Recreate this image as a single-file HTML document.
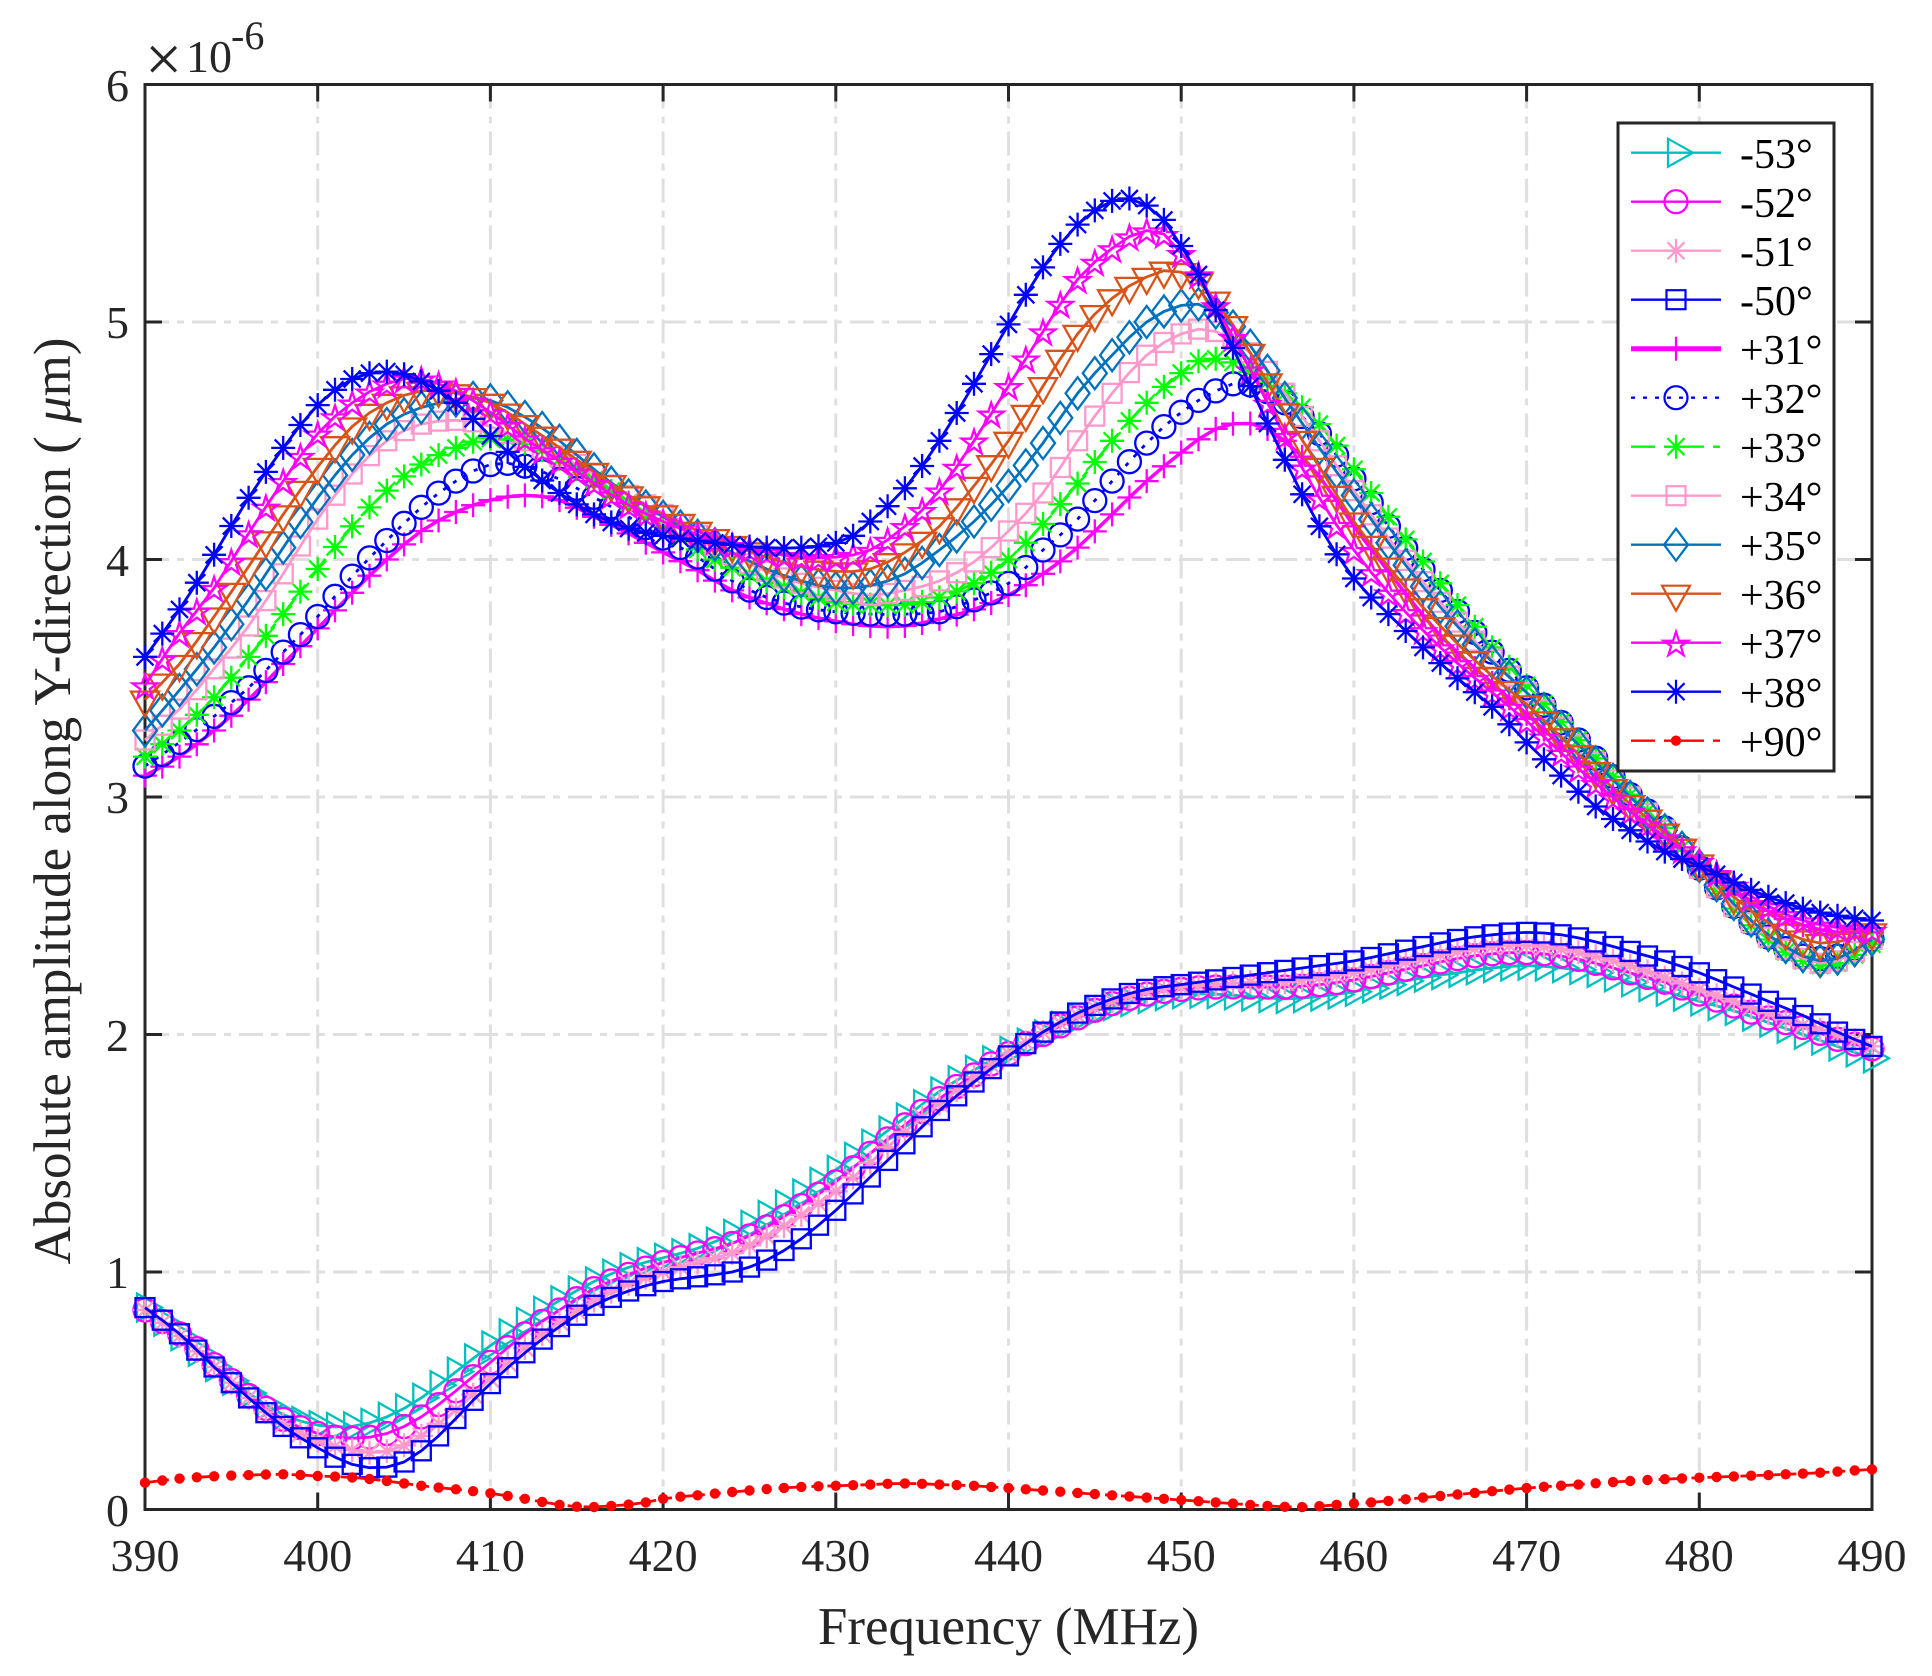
<!DOCTYPE html>
<html>
<head>
<meta charset="utf-8">
<style>
html,body{margin:0;padding:0;background:#fff;}
svg{display:block;}
text{font-family:"Liberation Serif","Times New Roman",serif;}
</style>
</head>
<body>
<svg id="chart" xmlns="http://www.w3.org/2000/svg" width="1932" height="1676" viewBox="0 0 1932 1676">
<rect x="0" y="0" width="1932" height="1676" fill="#ffffff"/>
<g id="grid" stroke="#dfdfdf" stroke-width="3" stroke-dasharray="24 8 7 8" fill="none"></g>
<g id="axes" stroke="#262626" stroke-width="3" fill="none"></g>
<g id="data"></g>

<!-- Y tick labels -->
<g font-size="46" fill="#262626" text-anchor="end">
<text x="129" y="1526">0</text>
<text x="129" y="1288">1</text>
<text x="129" y="1051">2</text>
<text x="129" y="813">3</text>
<text x="129" y="576">4</text>
<text x="129" y="338">5</text>
<text x="129" y="101">6</text>
</g>
<!-- X tick labels -->
<g font-size="46" fill="#262626" text-anchor="middle">
<text x="145" y="1571">390</text>
<text x="317.7" y="1571">400</text>
<text x="490.4" y="1571">410</text>
<text x="663.1" y="1571">420</text>
<text x="835.8" y="1571">430</text>
<text x="1008.5" y="1571">440</text>
<text x="1181.2" y="1571">450</text>
<text x="1353.9" y="1571">460</text>
<text x="1526.6" y="1571">470</text>
<text x="1699.3" y="1571">480</text>
<text x="1872" y="1571">490</text>
</g>
<!-- exponent -->
<g fill="#262626">
<text x="145" y="81" font-size="66">×</text>
<text x="186" y="72" font-size="46">10</text>
<text x="231" y="49" font-size="40">-6</text>
</g>
<!-- axis labels -->
<text x="1008.5" y="1644" font-size="53" fill="#262626" text-anchor="middle">Frequency (MHz)</text>
<text transform="translate(70,801) rotate(-90)" font-size="53" fill="#262626" text-anchor="middle">Absolute amplitude along Y-direction ( <tspan font-style="italic">μ</tspan>m)</text>

<!-- legend -->
<rect x="1618" y="123" width="216" height="648" fill="#ffffff" stroke="#262626" stroke-width="3"/>
<g id="legsym"></g>
<g font-size="42" fill="#000000">
<text x="1740" y="168">-53°</text>
<text x="1740" y="217">-52°</text>
<text x="1740" y="266">-51°</text>
<text x="1740" y="315">-50°</text>
<text x="1740" y="364">+31°</text>
<text x="1740" y="413">+32°</text>
<text x="1740" y="462">+33°</text>
<text x="1740" y="511">+34°</text>
<text x="1740" y="560">+35°</text>
<text x="1740" y="609">+36°</text>
<text x="1740" y="658">+37°</text>
<text x="1740" y="707">+38°</text>
<text x="1740" y="756">+90°</text>
</g>
</svg>
<script>
(function(){
const L=145,R=1872,T=84.5,B=1509.5;
const X=f=>L+(f-390)*(R-L)/100;
const Y=v=>B-v*(B-T)/6;

let g='';
for(let f=400;f<490;f+=10){g+=`<line x1="${X(f)}" y1="${T}" x2="${X(f)}" y2="${B}"/>`;}
for(let k=1;k<6;k++){g+=`<line x1="${L}" y1="${Y(k)}" x2="${R}" y2="${Y(k)}"/>`;}
document.getElementById('grid').innerHTML=g;
let a=`<rect x="${L}" y="${T}" width="${R-L}" height="${B-T}"/>`;
for(let f=390;f<=490;f+=10){a+=`<line x1="${X(f)}" y1="${B}" x2="${X(f)}" y2="${B-17}"/><line x1="${X(f)}" y1="${T}" x2="${X(f)}" y2="${T+17}"/>`;}
for(let k=0;k<=6;k++){a+=`<line x1="${L}" y1="${Y(k)}" x2="${L+17}" y2="${Y(k)}"/><line x1="${R}" y1="${Y(k)}" x2="${R-17}" y2="${Y(k)}"/>`;}
document.getElementById('axes').innerHTML=a;

function interp(pts){
  const n=pts.length,xs=pts.map(p=>p[0]),ys=pts.map(p=>p[1]),m=[];
  for(let i=0;i<n;i++){
    if(i==0)m[i]=(ys[1]-ys[0])/(xs[1]-xs[0]);
    else if(i==n-1)m[i]=(ys[n-1]-ys[n-2])/(xs[n-1]-xs[n-2]);
    else{const h0=xs[i]-xs[i-1],h1=xs[i+1]-xs[i];const d0=(ys[i]-ys[i-1])/h0,d1=(ys[i+1]-ys[i])/h1;m[i]=(d0*h1+d1*h0)/(h0+h1);}
  }
  return function(x){
    let k=0;while(k<n-2&&x>xs[k+1])k++;
    const h=xs[k+1]-xs[k],t=(x-xs[k])/h,t2=t*t,t3=t2*t;
    return (2*t3-3*t2+1)*ys[k]+(t3-2*t2+t)*h*m[k]+(-2*t3+3*t2)*ys[k+1]+(t3-t2)*h*m[k+1];
  };
}
const r1=v=>v.toFixed(1);
function mk(t,x,y){
  switch(t){
    case '>':return `<polygon points="${r1(x-8)},${r1(y-14)} ${r1(x-8)},${r1(y+14)} ${r1(x+17)},${r1(y)}"/>`;
    case 'v':return `<polygon points="${r1(x-14)},${r1(y-8)} ${r1(x+14)},${r1(y-8)} ${r1(x)},${r1(y+17)}"/>`;
    case 'o':return `<circle cx="${r1(x)}" cy="${r1(y)}" r="11.5"/>`;
    case 's':return `<rect x="${r1(x-9.5)}" y="${r1(y-9.5)}" width="19" height="19"/>`;
    case 'd':return `<polygon points="${r1(x)},${r1(y-16)} ${r1(x+12)},${r1(y)} ${r1(x)},${r1(y+16)} ${r1(x-12)},${r1(y)}"/>`;
    case '+':return `<path d="M${r1(x-12)} ${r1(y)}H${r1(x+12)}M${r1(x)} ${r1(y-12)}V${r1(y+12)}"/>`;
    case '*':{const d=8.5;return `<path d="M${r1(x-12)} ${r1(y)}H${r1(x+12)}M${r1(x)} ${r1(y-12)}V${r1(y+12)}M${r1(x-d)} ${r1(y-d)}L${r1(x+d)} ${r1(y+d)}M${r1(x-d)} ${r1(y+d)}L${r1(x+d)} ${r1(y-d)}"/>`;}
    case 'p':{let p=[];for(let i=0;i<10;i++){const rr=i%2?5:13;const an=-Math.PI/2+i*Math.PI/5;p.push(r1(x+rr*Math.cos(an))+','+r1(y+2+rr*Math.sin(an)));}return `<polygon points="${p.join(' ')}"/>`;}
    case '.':return `<circle cx="${r1(x)}" cy="${r1(y)}" r="5.2" stroke="none"/>`;
  }
  return '';
}

const m53=[[390,0.85],[392,0.73],[394,0.60],[396,0.49],[398,0.40],[400,0.355],[402,0.35],[404,0.39],[406,0.47],[408,0.58],[410,0.69],[412,0.79],[414,0.88],[416,0.96],[418,1.02],[420,1.06],[422,1.10],[424,1.16],[426,1.24],[428,1.33],[430,1.43],[432,1.54],[434,1.65],[436,1.76],[438,1.85],[440,1.93],[442,2.00],[444,2.07],[446,2.12],[448,2.15],[450,2.17],[452,2.17],[454,2.16],[456,2.15],[458,2.16],[460,2.18],[462,2.21],[464,2.24],[466,2.26],[468,2.28],[470,2.29],[472,2.28],[474,2.26],[476,2.22],[478,2.18],[480,2.14],[482,2.10],[484,2.05],[486,2.00],[488,1.95],[490,1.90]];
const m52=[[390,0.84],[392,0.74],[394,0.61],[396,0.48],[398,0.38],[400,0.32],[402,0.30],[404,0.32],[406,0.39],[408,0.50],[410,0.62],[412,0.74],[414,0.84],[416,0.93],[418,0.99],[420,1.04],[422,1.08],[424,1.12],[426,1.19],[428,1.28],[430,1.38],[432,1.50],[434,1.62],[436,1.73],[438,1.83],[440,1.92],[442,2.00],[444,2.07],[446,2.13],[448,2.17],[450,2.19],[452,2.20],[454,2.20],[456,2.20],[458,2.21],[460,2.23],[462,2.26],[464,2.29],[466,2.32],[468,2.34],[470,2.345],[472,2.33],[474,2.30],[476,2.26],[478,2.22],[480,2.17],[482,2.12],[484,2.07],[486,2.03],[488,1.98],[490,1.94]];
const m51=[[390,0.84],[392,0.73],[394,0.60],[396,0.47],[398,0.36],[400,0.29],[402,0.25],[403.5,0.24],[405,0.27],[406,0.31],[408,0.42],[410,0.55],[412,0.68],[414,0.79],[416,0.88],[418,0.95],[420,1.00],[422,1.04],[424,1.08],[426,1.15],[428,1.24],[430,1.34],[432,1.46],[434,1.59],[436,1.71],[438,1.82],[440,1.92],[442,2.01],[444,2.08],[446,2.14],[448,2.18],[450,2.20],[452,2.21],[454,2.22],[456,2.22],[458,2.24],[460,2.26],[462,2.29],[464,2.32],[466,2.35],[468,2.37],[470,2.375],[472,2.36],[474,2.33],[476,2.29],[478,2.24],[480,2.19],[482,2.14],[484,2.09],[486,2.04],[488,2.00],[490,1.95]];
const m50=[[390,0.85],[392,0.74],[394,0.60],[396,0.47],[398,0.35],[400,0.26],[402,0.19],[403.5,0.175],[405,0.20],[407,0.31],[409,0.46],[410,0.53],[412,0.66],[414,0.77],[416,0.86],[418,0.92],[420,0.96],[422,0.98],[424,1.00],[426,1.05],[428,1.14],[430,1.26],[432,1.40],[434,1.54],[436,1.68],[438,1.80],[440,1.91],[442,2.01],[444,2.09],[446,2.15],[448,2.19],[450,2.21],[452,2.23],[454,2.25],[456,2.27],[458,2.29],[460,2.31],[462,2.34],[464,2.37],[466,2.40],[468,2.42],[470,2.43],[472,2.42],[474,2.39],[476,2.35],[478,2.31],[480,2.26],[482,2.20],[484,2.14],[486,2.08],[488,2.01],[490,1.95]];
const p31=[[390,3.09],[392,3.17],[394,3.28],[396,3.41],[398,3.56],[400,3.71],[402,3.86],[404,4.00],[406,4.12],[408,4.20],[410,4.25],[412,4.27],[414,4.25],[416,4.18],[418,4.11],[420,4.03],[422,3.955],[424,3.87],[426,3.815],[428,3.77],[430,3.74],[432,3.72],[434,3.72],[436,3.75],[438,3.79],[440,3.85],[442,3.94],[444,4.05],[446,4.19],[448,4.33],[450,4.45],[452,4.55],[453.5,4.575],[455,4.55],[456,4.50],[458,4.35],[460,4.14],[462,3.95],[465,3.68],[468,3.48],[470,3.35],[473,3.15],[476,2.95],[478,2.83],[480,2.72],[482,2.61],[484,2.52],[486,2.46],[488,2.43],[490,2.43]];
const p32=[[390,3.13],[392,3.23],[394,3.34],[396,3.46],[398,3.61],[400,3.76],[402,3.93],[404,4.08],[406,4.22],[408,4.33],[410,4.40],[411,4.405],[413,4.37],[415,4.30],[418,4.18],[420,4.09],[422,4.01],[424,3.91],[426,3.84],[428,3.80],[430,3.78],[432,3.77],[434,3.77],[436,3.78],[438,3.83],[440,3.90],[442,4.04],[444,4.17],[446,4.33],[448,4.49],[450,4.62],[452,4.71],[453,4.74],[454,4.735],[456,4.66],[458,4.53],[460,4.34],[462,4.14],[465,3.87],[468,3.61],[470,3.46],[473,3.24],[476,3.01],[478,2.87],[480,2.70],[482,2.54],[484,2.41],[486,2.33],[487,2.32],[488,2.33],[490,2.40]];
const p33=[[390,3.17],[392,3.28],[394,3.42],[396,3.59],[398,3.77],[400,3.96],[402,4.14],[404,4.29],[406,4.40],[408,4.47],[410,4.51],[411,4.505],[413,4.46],[415,4.38],[418,4.24],[420,4.14],[423,4.00],[426,3.91],[428,3.86],[430,3.82],[432,3.81],[434,3.81],[436,3.84],[438,3.90],[440,4.00],[442,4.15],[444,4.32],[446,4.50],[448,4.66],[450,4.785],[451,4.835],[452,4.845],[453,4.83],[454,4.79],[456,4.70],[458,4.57],[460,4.38],[462,4.18],[465,3.90],[468,3.63],[470,3.47],[473,3.24],[476,3.01],[478,2.87],[480,2.70],[482,2.53],[484,2.40],[486,2.31],[487,2.29],[488,2.30],[490,2.38]];
const p34=[[390,3.24],[392,3.37],[394,3.54],[396,3.72],[398,3.94],[400,4.17],[402,4.36],[404,4.50],[406,4.57],[407.5,4.585],[409,4.58],[410,4.56],[412,4.50],[415,4.40],[418,4.27],[420,4.19],[423,4.06],[426,3.95],[428,3.90],[430,3.87],[432,3.85],[434,3.87],[436,3.91],[438,3.99],[440,4.12],[442,4.28],[444,4.50],[446,4.70],[448,4.86],[450,4.95],[451,4.97],[452,4.96],[454,4.87],[456,4.70],[458,4.50],[460,4.29],[462,4.09],[465,3.82],[468,3.58],[470,3.44],[473,3.22],[476,3.00],[478,2.86],[480,2.70],[482,2.54],[484,2.41],[486,2.32],[487,2.30],[488,2.31],[490,2.40]];
const p35=[[390,3.28],[392,3.45],[394,3.63],[396,3.83],[398,4.05],[400,4.26],[402,4.44],[404,4.57],[406,4.64],[408,4.67],[409,4.68],[410,4.67],[412,4.60],[414,4.50],[416,4.38],[418,4.27],[420,4.18],[422,4.10],[424,4.03],[426,3.96],[428,3.91],[430,3.88],[432,3.89],[434,3.94],[436,4.04],[438,4.16],[440,4.31],[442,4.49],[444,4.70],[446,4.86],[448,5.00],[450,5.07],[451,5.075],[452,5.04],[454,4.90],[456,4.68],[458,4.47],[460,4.27],[462,4.07],[465,3.80],[468,3.57],[470,3.44],[473,3.22],[476,3.00],[478,2.86],[480,2.71],[482,2.55],[484,2.42],[486,2.33],[487,2.31],[488,2.32],[490,2.40]];
const p36=[[390,3.41],[392,3.56],[394,3.76],[396,3.97],[398,4.19],[400,4.39],[402,4.56],[404,4.66],[406,4.71],[407,4.715],[408,4.70],[410,4.66],[412,4.57],[415,4.42],[418,4.27],[420,4.19],[423,4.09],[426,4.01],[428,3.97],[430,3.95],[432,3.96],[434,4.03],[436,4.14],[438,4.31],[440,4.50],[442,4.73],[444,4.95],[446,5.10],[448,5.19],[449,5.216],[450,5.21],[451,5.17],[452,5.09],[454,4.87],[456,4.62],[458,4.39],[460,4.16],[462,3.97],[465,3.72],[468,3.51],[470,3.39],[473,3.18],[476,2.97],[478,2.85],[480,2.72],[482,2.58],[484,2.47],[486,2.40],[487,2.385],[488,2.39],[490,2.43]];
const p37=[[390,3.47],[392,3.69],[394,3.88],[396,4.11],[398,4.33],[400,4.53],[402,4.66],[404,4.74],[405.5,4.765],[407,4.74],[408,4.71],[410,4.62],[412,4.51],[415,4.37],[418,4.23],[420,4.16],[423,4.08],[426,4.03],[428,4.01],[430,4.01],[432,4.04],[434,4.14],[436,4.29],[438,4.50],[440,4.73],[442,4.96],[444,5.18],[446,5.31],[447,5.36],[448,5.385],[449,5.37],[450,5.29],[451,5.20],[452,5.07],[454,4.80],[456,4.52],[458,4.26],[460,4.04],[462,3.86],[465,3.63],[468,3.44],[470,3.32],[473,3.12],[476,2.94],[478,2.83],[480,2.73],[482,2.63],[484,2.54],[486,2.48],[488,2.45],[490,2.44]];
const p38=[[390,3.59],[392,3.79],[394,4.02],[396,4.26],[398,4.47],[400,4.65],[402,4.76],[403.5,4.79],[405,4.78],[406,4.75],[408,4.66],[410,4.52],[412,4.39],[414,4.28],[416,4.19],[418,4.13],[420,4.10],[423,4.07],[426,4.05],[428,4.05],[430,4.07],[431,4.10],[432,4.16],[434,4.30],[436,4.50],[438,4.74],[440,4.99],[442,5.23],[444,5.41],[445,5.47],[446,5.51],[447,5.52],[448,5.49],[449,5.43],[450,5.32],[451,5.20],[452,5.05],[454,4.73],[456,4.42],[458,4.14],[460,3.92],[462,3.77],[464,3.63],[466,3.50],[468,3.38],[470,3.23],[472,3.09],[474,2.96],[476,2.86],[478,2.77],[480,2.71],[482,2.64],[484,2.58],[486,2.53],[488,2.50],[490,2.48]];
const p90=[[390,0.113],[392,0.13],[394,0.14],[396,0.145],[398,0.148],[400,0.141],[402,0.135],[404,0.12],[406,0.10],[408,0.085],[410,0.068],[412,0.045],[414,0.02],[415.5,0.01],[417,0.015],[419,0.03],[420,0.045],[422,0.06],[425,0.08],[428,0.095],[430,0.10],[432,0.105],[434,0.11],[436,0.105],[438,0.10],[440,0.09],[443,0.075],[446,0.06],[449,0.045],[452,0.03],[455,0.015],[457,0.01],[459,0.02],[461,0.03],[464,0.05],[467,0.07],[470,0.09],[473,0.105],[476,0.12],[480,0.134],[484,0.145],[487,0.155],[490,0.169]];

const DD='24 9 7 9';
const series=[
 {d:m53,c:'#00bfbf',m:'>'},
 {d:m52,c:'#ff00ff',m:'o'},
 {d:m51,c:'#ff99cc',m:'*'},
 {d:m50,c:'#0000ff',m:'s'},
 {d:p31,c:'#ff00ff',m:'+',lw:3.5,llw:5},
 {d:p32,c:'#0000ff',m:'o',dash:'4 8'},
 {d:p33,c:'#00ff00',m:'*',dash:DD},
 {d:p34,c:'#ff99cc',m:'s'},
 {d:p35,c:'#0072bd',m:'d'},
 {d:p36,c:'#d95319',m:'v'},
 {d:p37,c:'#ff00ff',m:'p'},
 {d:p38,c:'#0000ff',m:'*'},
 {d:p90,c:'#ff0000',m:'.',dash:DD}
];
let out='';
series.forEach(s=>{
  const fn=interp(s.d);
  let pts=[];
  for(let f=390;f<=490;f++){pts.push([X(f),Y(fn(f))]);}
  const dash=s.dash?` stroke-dasharray="${s.dash}"`:'';
  out+=`<path d="M${pts.map(p=>r1(p[0])+' '+r1(p[1])).join('L')}" fill="none" stroke="${s.c}" stroke-width="${s.lw||2.8}" stroke-linejoin="round"${dash}/>`;
  out+=`<g fill="${s.m=='.'?s.c:'none'}" stroke="${s.c}" stroke-width="2.3">`;
  pts.forEach(p=>{out+=mk(s.m,p[0],p[1]);});
  out+='</g>';
});
document.getElementById('data').innerHTML=out;

let lg='';
series.forEach((s,i)=>{
  const y=152.7+49*i;
  const dash=s.dash?` stroke-dasharray="${s.dash}"`:'';
  lg+=`<line x1="1631" y1="${r1(y)}" x2="1721" y2="${r1(y)}" stroke="${s.c}" stroke-width="${s.llw||2.3}"${dash}/>`;
  lg+=`<g fill="${s.m=='.'?s.c:'none'}" stroke="${s.c}" stroke-width="2.2">${mk(s.m,1676,y)}</g>`;
});
document.getElementById('legsym').innerHTML=lg;
})();
</script>
</body>
</html>
